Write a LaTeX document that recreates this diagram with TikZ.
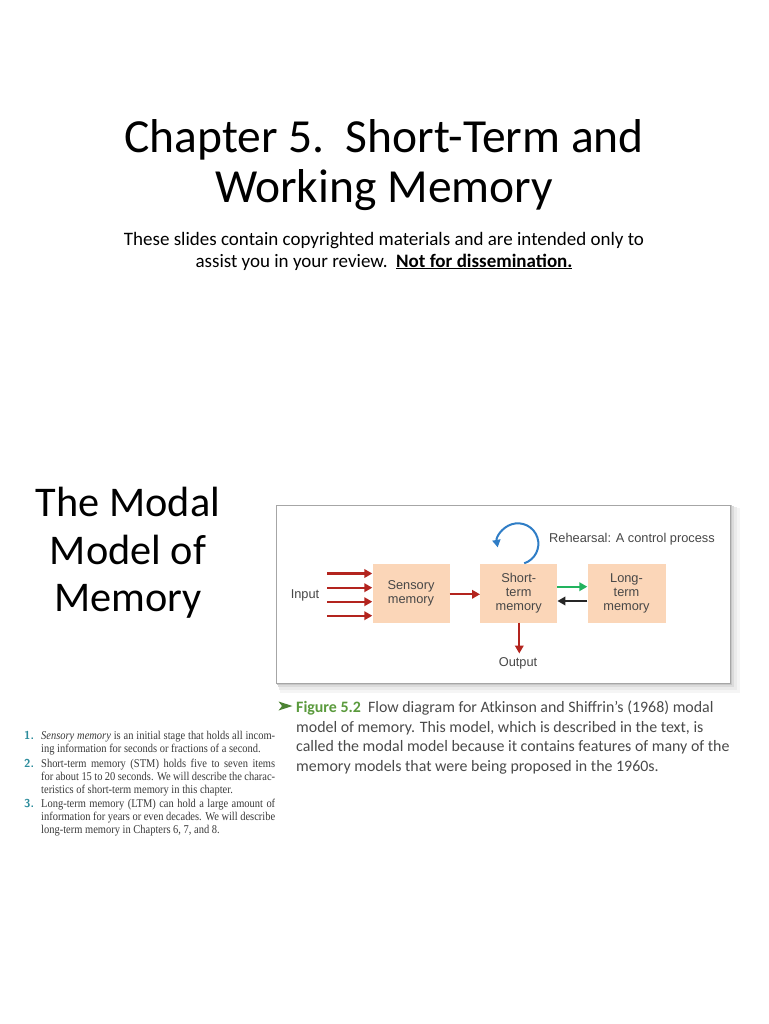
\documentclass[tikz,border=0pt]{standalone}
\usepackage{fontspec}
\setmainfont{Carlito}
\newfontfamily\figfont{Liberation Sans}
\newfontfamily\capfont{Carlito}
\newfontfamily\listfont[FakeStretch=0.88]{Liberation Serif}
\usetikzlibrary{arrows.meta,calc}
\definecolor{peach}{HTML}{FBD6B8}
\definecolor{darkred}{HTML}{B3241E}
\definecolor{arrgreen}{HTML}{22B35E}
\definecolor{loopblue}{HTML}{2F7DC6}
\definecolor{capgray}{HTML}{4A4A4A}
\definecolor{capgreen}{HTML}{5A9A3C}
\definecolor{numteal}{HTML}{2C8C9C}
\definecolor{listgray}{HTML}{3A3A3A}
\tikzset{
  memobox/.style={fill=peach,draw=none,minimum width=77pt,minimum height=59pt,inner sep=0pt,
    align=center,font=\figfont\fontsize{12.8}{14}\selectfont,text=black!72},
  flow/.style={line width=2.1pt,-{Triangle[length=8pt,width=8.5pt]}},
  figlabel/.style={font=\figfont\fontsize{12.8}{14}\selectfont,text=black!72,inner sep=0pt},
  capline/.style={anchor=base west,inner sep=0pt,font=\capfont\fontsize{15.9}{18}\selectfont,text=capgray},
  listline/.style={anchor=base west,inner sep=0pt,font=\listfont\fontsize{11.9}{12.8}\selectfont,text=listgray},
  listnum/.style={anchor=base west,inner sep=0pt,font=\sffamily\bfseries\fontsize{11.5}{12.8}\selectfont,text=numteal},
}
\newcommand{\jline}[1]{\makebox[234pt][s]{#1}}
\begin{document}
\begin{tikzpicture}[x=1pt,y=-1pt]
\useasboundingbox[fill=white] (0,0) rectangle (768,1024);

% Title
\node[font=\fontsize{47.5}{50}\selectfont,align=center,inner sep=0pt] (title) at (384,165)
  {Chapter 5.\ \ Short-Term and\\Working Memory};
\node[font=\fontsize{19}{22}\selectfont,align=center,inner sep=0pt] (sub) at (384,251)
  {These slides contain copyrighted materials and are intended only to\\
   assist you in your review.\ \ \underline{\textbf{Not for dissemination.}}};

% Side heading
\node[font=\fontsize{42.3}{47.5}\selectfont,align=center,inner sep=0pt] (modal) at (128,553)
  {The Modal\\Model of\\Memory};

% Figure frame with shadow
\fill[black!4] (280,508) rectangle (740,693);
\fill[black!8] (279,507) rectangle (737,690);
\fill[black!14] (278,506) rectangle (734,687);
\fill[black!22] (277,505) rectangle (732,685);
\node[draw=black!35,fill=white,line width=0.6pt,minimum width=454pt,minimum height=178pt,inner sep=0pt] (frame) at (503.7,594) {};

% Boxes
\node[memobox] (sensory) at (411,593) {Sensory\\memory};
\node[memobox] (stm) at (518.7,593) {Short-\\term\\memory};
\node[memobox,minimum width=78pt] (ltm) at (626.5,593) {Long-\\term\\memory};

% Input
\node[figlabel] (input) at (305,595.5) {Input};
\foreach \i/\yy in {1/573.5,2/587.7,3/601.7,4/615.7}{
  \coordinate (in\i) at (327,\yy);
  \draw[flow,darkred] (in\i) -- (in\i -| sensory.west);
}
% Sensory -> STM
\draw[flow,darkred] (sensory.east |- 0,594.3) -- (stm.west |- 0,594.3);
% STM <-> LTM
\draw[flow,arrgreen] (stm.east |- 0,586.7) -- (ltm.west |- 0,586.7);
\draw[flow,black!85] (ltm.west |- 0,601) -- (stm.east |- 0,601);
% Output
\node[figlabel] (output) at (518,663.5) {Output};
\draw[flow,darkred] (stm.south -| 519.3,0) -- ($(output.north)+(1.3,-4)$);

% Rehearsal loop
\coordinate (loopstart) at ($(stm.north)+(5.5,0)$);
\draw[loopblue,line width=2pt,-{Triangle[length=7.5pt,width=8pt]}]
  (loopstart) arc[start angle=72,end angle=-190,radius=20.5];
\node[figlabel,anchor=west] (reh) at (549,539) {Rehearsal: A control process};

% Caption
\fill[capgreen!85!black] (278.5,701.5) -- (292.5,706) -- (278.5,710.5) -- (282,706) -- cycle;
\node[capline] (cap1) at (296,712.5) {\textcolor{capgreen}{\textbf{Figure 5.2}}\ \ Flow diagram for Atkinson and Shiffrin’s (1968) modal};
\node[capline] (cap2) at (296,732) {model of memory. This model, which is described in the text, is};
\node[capline] (cap3) at (296,751.5) {called the modal model because it contains features of many of the};
\node[capline] (cap4) at (296,771) {memory models that were being proposed in the 1960s.};

% List
\node[listnum] (n1) at (24,739.5) {1.};
\node[listline] (l1a) at (41,739.5) {\jline{\textit{Sensory memory} is an initial stage that holds all incom-}};
\node[listline] (l1b) at (41,752.5) {ing information for seconds or fractions of a second.};
\node[listnum] (n2) at (24,767.5) {2.};
\node[listline] (l2a) at (41,767.5) {\jline{Short-term memory (STM) holds five to seven items}};
\node[listline] (l2b) at (41,780.3) {\jline{for about 15 to 20 seconds. We will describe the charac-}};
\node[listline] (l2c) at (41,793) {teristics of short-term memory in this chapter.};
\node[listnum] (n3) at (24,807.8) {3.};
\node[listline] (l3a) at (41,807.8) {\jline{Long-term memory (LTM) can hold a large amount of}};
\node[listline] (l3b) at (41,820.7) {\jline{information for years or even decades. We will describe}};
\node[listline] (l3c) at (41,833.5) {long-term memory in Chapters 6, 7, and 8.};
\end{tikzpicture}
\end{document}
